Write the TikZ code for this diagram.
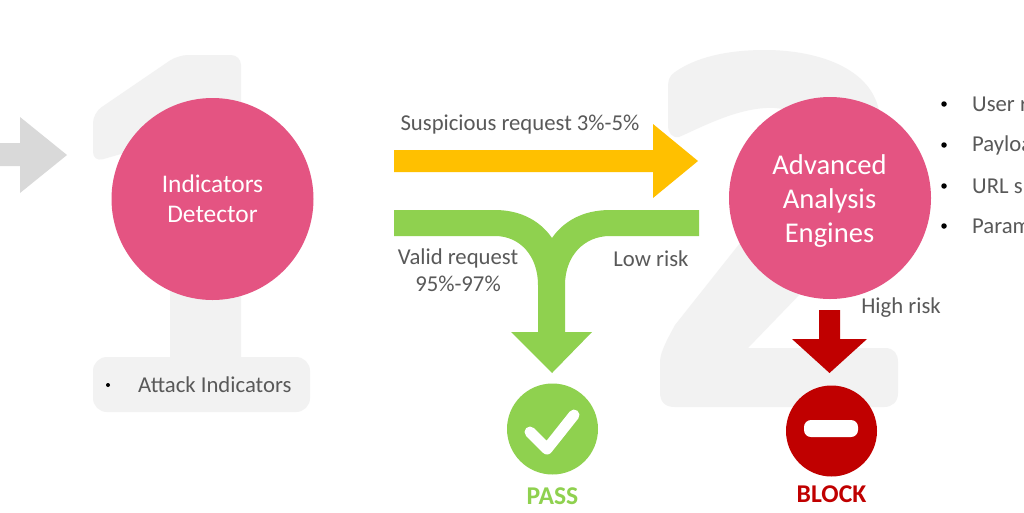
\documentclass[tikz,border=0pt]{standalone}
\usepackage{fontspec}
\setmainfont{Carlito}
\definecolor{pinkc}{HTML}{E45482}
\definecolor{yellowc}{HTML}{FFC000}
\definecolor{greenc}{HTML}{8FD14F}
\definecolor{redc}{HTML}{C00000}
\definecolor{ghost}{HTML}{F2F2F2}
\definecolor{arrowgray}{HTML}{D9D9D9}
\definecolor{txt}{HTML}{595959}
\tikzset{
  engine/.style={circle,fill=pinkc,minimum size=202pt,inner sep=0pt},
  enginetext/.style={text=white,align=center,inner sep=0pt},
  lbl/.style={text=txt,font=\fontsize{22.7}{27}\selectfont,inner sep=0pt,align=center},
  bulletdot/.style={circle,fill=black,minimum size=5.5pt,inner sep=0pt},
  bigtext/.style={font=\fontsize{28.6}{34}\selectfont},
  midtext/.style={font=\fontsize{25.4}{30}\selectfont},
  result/.style={font=\bfseries\fontsize{25.6}{30}\selectfont,inner sep=0pt}
}
\begin{document}
\begin{tikzpicture}[x=1pt,y=-1pt]
\useasboundingbox (0,0) rectangle (1024,512);
\fill[white] (0,0) rectangle (1024,512);
% ghost 1
\fill[ghost,rounded corners=10pt] (241,55) -- (178,55) -- (93,113) -- (93,162) -- (170,140) -- (170,385) -- (241,385) -- cycle;
\fill[ghost,rounded corners=14pt] (93,357) rectangle (310,412);
% ghost 2
\fill[ghost] (668,125) .. controls (668,133) and (672,138) .. (679,137)
  .. controls (700,128) and (740,106) .. (775,108)
  .. controls (800,110) and (815,125) .. (815,150)
  -- (830,263) -- (748,348) -- (885,348)
  .. controls (894,348) and (898,354) .. (898,362)
  -- (898,393) .. controls (898,402) and (892,407) .. (884,407)
  -- (675,407) .. controls (665,407) and (660,402) .. (660,392)
  -- (660,362) .. controls (660,352) and (668,338) .. (675,325)
  -- (790,180) -- (880,120)
  .. controls (878,70) and (820,50) .. (765,50)
  .. controls (725,50) and (695,58) .. (675,72)
  .. controls (669,76) and (668,80) .. (668,90) -- cycle;
% left gray arrow
\fill[arrowgray] (0,143) -- (20,143) -- (20,117) -- (67,155) -- (20,193) -- (20,166) -- (0,166) -- cycle;
% yellow arrow
\fill[yellowc] (394,150) -- (653,150) -- (653,124) -- (698,161) -- (653,198) -- (653,172) -- (394,172) -- cycle;
% green merging arrow
\fill[greenc] (394,210) -- (495,210) .. controls (522,210) and (541,222) .. (552,238)
  .. controls (563,222) and (582,210) .. (610,210) -- (699,210) -- (699,236) -- (610,236)
  .. controls (584,236) and (565,256) .. (565,285) -- (565,332) -- (592,332) -- (552,373) -- (511,332) -- (538,332) -- (538,285)
  .. controls (538,256) and (520,236) .. (495,236) -- (394,236) -- cycle;
% red arrow
\fill[redc] (819,310) -- (840,310) -- (840,339) -- (867,339) -- (829.5,373) -- (792,339) -- (819,339) -- cycle;
% engines
\node[engine] (det) at (212.5,199) {};
\node[enginetext,midtext] (dett) at (212.5,199) {Indicators\\Detector};
\node[engine] (adv) at (830,198) {};
\node[enginetext,bigtext] (advt) at (829.5,201) {Advanced\\Analysis\\Engines};
% result icons
\node[circle,fill=greenc,minimum size=91pt,inner sep=0pt] (pass) at (552.5,429) {};
\draw[white,line width=11pt,line cap=round,line join=round] (530,432) -- (547,449) -- (574,415);
\node[circle,fill=redc,minimum size=91pt,inner sep=0pt] (block) at (831.5,431) {};
\fill[white,rounded corners=7pt] (804,420) rectangle (858,437);
\node[result,text=greenc] (passl) at (552.5,496) {PASS};
\node[result,text=redc] (blockl) at (831.5,494) {BLOCK};
% labels
\node[lbl] (susp) at (520,125) {Suspicious request 3\%-5\%};
\node[lbl] (valid) at (458,270) {Valid request\\95\%-97\%};
\node[lbl] (low) at (651,259) {Low risk};
\node[lbl] (high) at (901,308) {High risk};
\node[bulletdot,minimum size=4pt] (b0) at (108,385) {};
\node[lbl,anchor=west] (attack) at (138,385) {Attack Indicators};
% list
\node[bulletdot] (b1) at (944,104) {};
\node[lbl,anchor=west] (t1) at (972,104) {User r};
\node[bulletdot] (b2) at (944,145) {};
\node[lbl,anchor=west] (t2) at (972,145) {Payloa};
\node[bulletdot] (b3) at (944,186) {};
\node[lbl,anchor=west] (t3) at (972,186) {URL s};
\node[bulletdot] (b4) at (944,226) {};
\node[lbl,anchor=west] (t4) at (972,226) {Param};
\end{tikzpicture}
\end{document}
